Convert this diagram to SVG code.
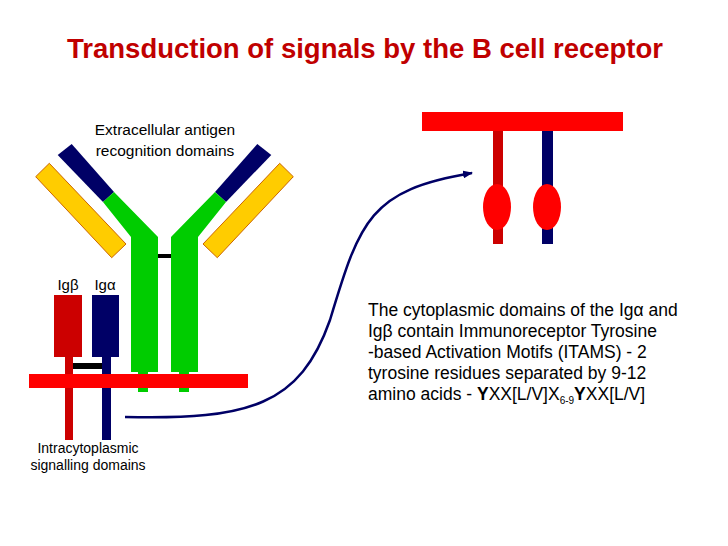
<svg xmlns="http://www.w3.org/2000/svg" width="728" height="546" viewBox="0 0 728 546">
<style>
text{font-family:"Liberation Sans",Arial,sans-serif;fill:#000}
.g{fill:#00cc00}.n{fill:#000066}.y{fill:#ffcc00;stroke:#cc6600;stroke-width:1}.r{fill:#ff0000}.dr{fill:#cc0000}
</style>
<defs><marker id="ah" markerWidth="10" markerHeight="8" refX="9" refY="4" orient="auto" markerUnits="userSpaceOnUse"><path d="M0,0 L10,4 L0,8 Z" fill="#000066"/></marker></defs>
<rect width="728" height="546" fill="#fff"/>
<text x="365" y="58" text-anchor="middle" font-size="27.5" font-weight="bold" style="fill:#c00000">Transduction of signals by the B cell receptor</text>
<g id="receptor">
<polygon class="n" points="57.7,155 71.7,144 114,192 103,202"/>
<polygon class="g" points="103,202 114,192 158,237 158,372 131,372 131,237"/>
<polygon class="n" points="271.3,155 257.3,144 215,192 226,202"/>
<polygon class="g" points="226,202 215,192 171,237 171,372 198,372 198,237"/>
<rect class="g" x="138" y="372" width="10" height="20"/>
<rect class="g" x="179" y="372" width="10" height="20"/>
<rect x="158" y="254" width="13" height="4"/>
<polygon class="y" points="35.7,176.7 49.3,163.3 126,244 111.7,257.7"/>
<polygon class="y" points="293.3,176.7 279.7,163.3 203,244 217.3,257.7"/>
</g>
<g id="igb"><rect class="dr" x="54" y="295" width="28" height="62"/><rect class="dr" x="65" y="357" width="8" height="83"/></g>
<g id="iga"><rect class="n" x="92" y="295" width="27" height="62"/><rect class="n" x="102" y="357" width="9" height="83"/></g>
<rect x="73" y="363" width="29" height="6"/>
<rect id="membrane" class="r" x="29" y="374" width="219" height="14"/>
<text x="68" y="290" text-anchor="middle" font-size="15">Igβ</text>
<text x="105" y="290" text-anchor="middle" font-size="15">Igα</text>
<text x="165" y="135" text-anchor="middle" font-size="15.5">Extracellular antigen</text>
<text x="165" y="156" text-anchor="middle" font-size="15.5">recognition domains</text>
<text x="88" y="453" text-anchor="middle" font-size="14">Intracytoplasmic</text>
<text x="88" y="470" text-anchor="middle" font-size="14">signalling domains</text>
<g id="connectors"><path d="M125,417 C250,420 300,405 330,320 C360,220 370,190 472,173" fill="none" stroke="#000066" stroke-width="2.5" marker-end="url(#ah)"/></g>
<g id="detail">
<rect class="r" x="422" y="112" width="201" height="19"/>
<rect class="dr" x="493" y="131" width="10" height="113"/>
<rect class="n" x="542" y="131" width="11" height="113"/>
<ellipse class="r" cx="497" cy="207" rx="14" ry="23"/>
<ellipse class="r" cx="547" cy="207" rx="14" ry="23"/>
</g>
<g id="desc">
<text x="368" y="316" font-size="17.5">The cytoplasmic domains of the Igα and</text>
<text x="368" y="337" font-size="17.5">Igβ contain Immunoreceptor Tyrosine</text>
<text x="368" y="358" font-size="17.5">-based Activation Motifs (ITAMS) - 2</text>
<text x="368" y="379" font-size="17.5">tyrosine residues separated by 9-12</text>
<text x="368" y="400" font-size="17.5">amino acids - <tspan font-weight="bold">Y</tspan>XX[L/V]X<tspan font-size="10" dy="4">6-9</tspan><tspan font-weight="bold" dy="-4">Y</tspan>XX[L/V]</text>
</g>
</svg>
